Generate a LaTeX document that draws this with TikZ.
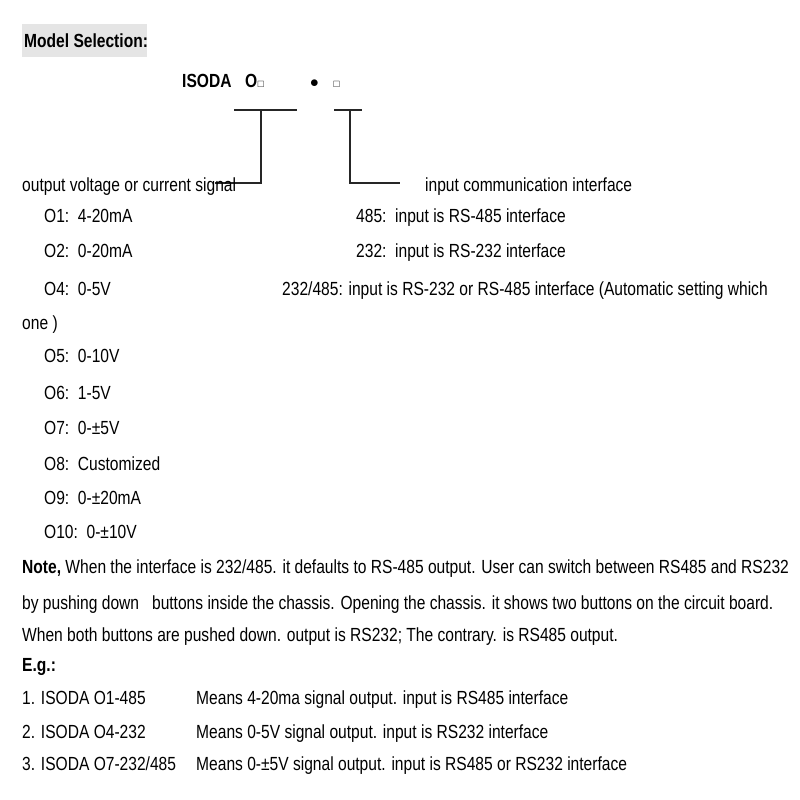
\documentclass[tikz,border=0pt]{standalone}
\usepackage{amssymb}
\usepackage{fontspec}
\setmainfont{Liberation Sans}[FakeStretch=0.82]
\begin{document}
\begin{tikzpicture}[x=1pt,y=-1pt,
  t/.style={anchor=base west,inner sep=0pt,font=\fontsize{19}{21}\selectfont},
  b/.style={t,font=\fontsize{19}{21}\selectfont\bfseries},
  ln/.style={line width=1.3pt,black!85}]
\useasboundingbox (0,0) rectangle (800,800);
\fill[black!10] (22,24) rectangle (147,57);
\node[b] (ms) at (24,48) {Model Selection:};
\node[b] (isoda) at (182,88) {ISODA};
\node[b] (o) at (245,88) {O\fontsize{9}{9}\selectfont$\square$};
\node[t] (dot) at (310,88) {$\bullet$};
\node[t,font=\fontsize{9}{9}\selectfont] (sq) at (333,88) {$\square$};
\coordinate (a1) at (234,110); \coordinate (a2) at (297,110);
\coordinate (a3) at (261,110); \coordinate (a4) at (261,183); \coordinate (a5) at (215,183);
\coordinate (b1) at (334,110); \coordinate (b2) at (362,110);
\coordinate (b3) at (350,110); \coordinate (b4) at (350,183); \coordinate (b5) at (400,183);
\draw[ln] (a1) -- (a2); \draw[ln] (a3) -- (a4) -- (a5);
\draw[ln] (b1) -- (b2); \draw[ln] (b3) -- (b4) -- (b5);
\node[t] (l0) at (22,191) {output voltage or current signal};
\node[t] (r0) at (425,191) {input communication interface};
\node[t] (l1) at (44,222) {O1:\ \ 4-20mA};
\node[t] (l2) at (44,257) {O2:\ \ 0-20mA};
\node[t] (l3) at (44,295) {O4:\ \ 0-5V};
\node[t] (r1) at (356,222) {485:\ \ input is RS-485 interface};
\node[t] (r2) at (356,257) {232:\ \ input is RS-232 interface};
\node[t] (r3) at (282,295) {232/485: input is RS-232 or RS-485 interface (Automatic setting which};
\node[t] (one) at (22,329) {one )};
\node[t] (l4) at (44,362) {O5:\ \ 0-10V};
\node[t] (l5) at (44,399) {O6:\ \ 1-5V};
\node[t] (l6) at (44,434) {O7:\ \ 0-±5V};
\node[t] (l7) at (44,470) {O8:\ \ Customized};
\node[t] (l8) at (44,504) {O9:\ \ 0-±20mA};
\node[t] (l9) at (44,538) {O10:\ \ 0-±10V};
\node[t] (n1) at (22,573) {\textbf{Note,}\ When the interface is 232/485. it defaults to RS-485 output. User can switch between RS485 and RS232};
\node[t] (n2) at (22,609) {by pushing down\ \ \ buttons inside the chassis. Opening the chassis. it shows two buttons on the circuit board.};
\node[t] (n3) at (22,641) {When both buttons are pushed down. output is RS232; The contrary. is RS485 output.};
\node[b] (eg) at (22,671) {E.g.:};
\node[t] (e1) at (22,704) {1. ISODA O1-485};
\node[t] (e2) at (22,738) {2. ISODA O4-232};
\node[t] (e3) at (22,770) {3. ISODA O7-232/485};
\node[t] (m1) at (196,704) {Means 4-20ma signal output. input is RS485 interface};
\node[t] (m2) at (196,738) {Means 0-5V signal output. input is RS232 interface};
\node[t] (m3) at (196,770) {Means 0-±5V signal output. input is RS485 or RS232 interface};
\end{tikzpicture}
\end{document}
